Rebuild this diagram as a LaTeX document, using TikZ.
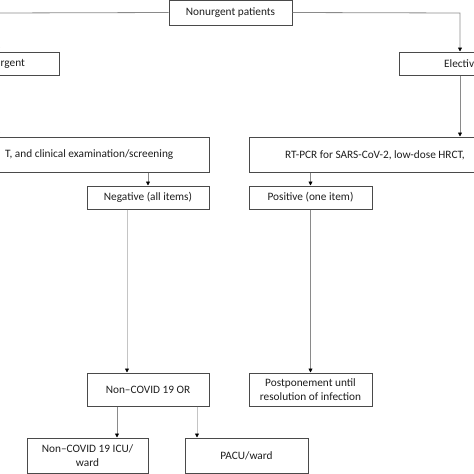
\documentclass[tikz,border=0pt]{standalone}
\usepackage{fontspec}
\setmainfont{Carlito}
\usetikzlibrary{arrows.meta,calc}
\definecolor{boxline}{HTML}{4A4A4A}
\definecolor{conn}{HTML}{8A8A8A}
\definecolor{connlight}{HTML}{C4C4C4}
\definecolor{txt}{HTML}{1E1E1E}
\begin{document}
\begin{tikzpicture}[x=1pt,y=-1pt,
  box/.style={draw=boxline,line width=1pt,fill=white,rectangle,inner sep=0pt,
    font=\fontsize{11.3}{13.5}\selectfont,text=txt,align=center},
  lbl/.style={inner sep=0pt,font=\fontsize{11.3}{13.5}\selectfont,text=txt},
  conn/.style={draw=conn,line width=0.8pt,-{Triangle[length=4pt,width=4pt,color=black]}},
  connl/.style={draw=connlight,line width=0.8pt,-{Triangle[length=4pt,width=4pt,color=black]}},
  plain/.style={draw=conn,line width=0.8pt}]
\useasboundingbox (0,0) rectangle (474,474);
\clip (0,0) rectangle (474,474);
% boxes
\node[box,minimum width=123pt,minimum height=25pt] (top) at (230.5,12.5) {Nonurgent patients};
\node[box,minimum width=122pt,minimum height=23pt] (urg) at (-2,63.5) {};
\node[box,minimum width=122pt,minimum height=23pt] (ele) at (460,63.5) {};
\node[box,minimum width=427pt,minimum height=35pt] (lbig) at (-4.5,154.5) {};
\node[box,minimum width=427pt,minimum height=35pt] (rbig) at (462.5,154.5) {};
\node[box,minimum width=122pt,minimum height=23pt] (neg) at (148,197.5) {Negative (all items)};
\node[box,minimum width=123pt,minimum height=23pt] (pos) at (310.5,197.5) {Positive (one item)};
\node[box,minimum width=122pt,minimum height=33pt] (or) at (148,389.5) {Non–COVID 19 OR};
\node[box,minimum width=123pt,minimum height=33pt] (post) at (310.5,389.5) {Postponement until\\resolution of infection};
\node[box,minimum width=121pt,minimum height=35pt] (icu) at (87.5,455.5) {Non–COVID 19 ICU/\\ward};
\node[box,minimum width=123pt,minimum height=35pt] (pacu) at (246.5,455.5) {PACU/ward};
% visible texts of the cut boxes
\node[lbl,anchor=west] (urgt) at (0.5,64) {rgent};
\node[lbl,anchor=west] (elet) at (444,64) {Electiv};
\node[lbl,anchor=east] (lbigt) at (173.5,155) {T, and clinical examination/screening};
\node[lbl,anchor=west] (rbigt) at (285,155) {RT-PCR for SARS-CoV-2, low-dose HRCT,};
% connectors
\coordinate (cl) at (-2,13);
\coordinate (cr) at (460,13);
\draw[plain] (top.west) -- (cl);
\draw[conn] (cl) -- (urg.north);
\draw[conn] (top.east) -- (cr) -- (ele.north);
\draw[conn] (ele.south) -- (ele.south |- rbig.north);
\draw[conn] (urg.south) -- (urg.south |- lbig.north);
\draw[conn] (neg.north |- lbig.south) -- (neg.north);
\draw[conn] (pos.north |- rbig.south) -- (pos.north);
\draw[connl] ([xshift=-21pt]neg.south) -- ([xshift=-21pt]or.north);
\draw[conn] (pos.south) -- (post.north);
\draw[conn] ([xshift=-31pt]or.south) -- ([xshift=29.5pt]icu.north);
\draw[connl] ([xshift=49pt]or.south) -- ([xshift=-49.5pt]pacu.north);
\end{tikzpicture}
\end{document}
